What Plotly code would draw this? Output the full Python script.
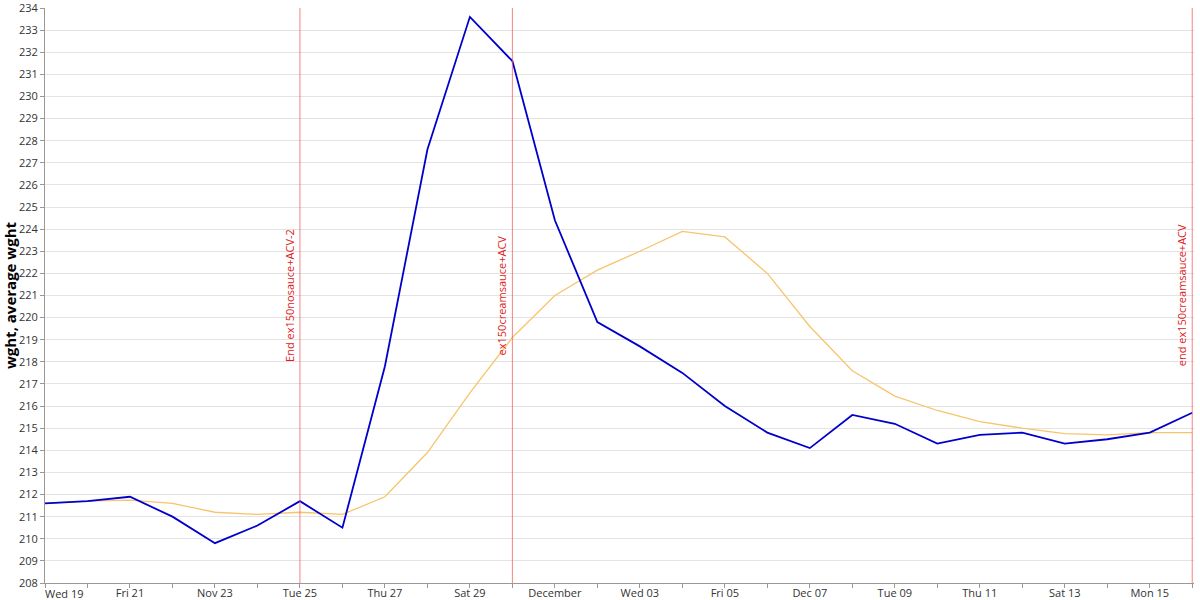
import pandas as pd
import plotly.graph_objects as go

# daily weights, 2025-11-19 .. 2025-12-16
days = pd.date_range("2025-11-19", "2025-12-16", freq="D")

wght = [211.6, 211.7, 211.9, 211.0, 209.8, 210.6, 211.7, 210.5,
        217.8, 227.6, 233.6, 231.6, 224.4, 219.8, 218.7, 217.5,
        216.0, 214.8, 214.1, 215.6, 215.2, 214.3, 214.7, 214.8,
        214.3, 214.5, 214.8, 215.7]

avg_wght = [211.6, 211.7, 211.75, 211.6, 211.2, 211.1, 211.2, 211.1,
            211.9, 213.9, 216.6, 219.1, 221.0, 222.15, 223.0, 223.9,
            223.65, 222.0, 219.6, 217.6, 216.45, 215.8, 215.3, 215.0,
            214.75, 214.7, 214.8, 214.8]

tick_dates = pd.date_range("2025-11-19", "2025-12-15", freq="2D")
tick_labels = ["Wed 19", "Fri 21", "Nov 23", "Tue 25", "Thu 27", "Sat 29",
               "December", "Wed 03", "Fri 05", "Dec 07", "Tue 09", "Thu 11",
               "Sat 13", "Mon 15"]

event_dates = ["2025-11-25", "2025-11-30", "2025-12-16"]
event_labels = ["End ex150nosauce+ACV-2", "ex150creamsauce+ACV",
                "end ex150creamsauce+ACV"]

# first label is drawn left-aligned at the plot edge (as an annotation)
shown_labels = [""] + tick_labels[1:]

fig = go.Figure()

fig.add_trace(go.Scatter(
    x=days, y=avg_wght, mode="lines", name="average wght",
    line=dict(color="#f7c46c", width=1.3)
))
fig.add_trace(go.Scatter(
    x=days, y=wght, mode="lines", name="wght",
    line=dict(color="#0000cc", width=1.8)
))

for d, txt in zip(event_dates, event_labels):
    fig.add_shape(type="line", x0=d, x1=d, y0=0, y1=1, xref="x", yref="paper",
                  line=dict(color="rgba(240,90,90,0.75)", width=1))
    fig.add_annotation(x=d, y=0.5, xref="x", yref="paper", text=txt,
                       textangle=-90, showarrow=False, xanchor="right",
                       yanchor="middle", xshift=-1,
                       font=dict(color="#e02020", size=11))

fig.add_annotation(x=tick_dates[0], y=0, xref="x", yref="paper",
                   text=tick_labels[0], showarrow=False,
                   xanchor="left", yanchor="top", yshift=-1, xshift=-2,
                   font=dict(size=11, color="#333"))

fig.update_layout(
    width=1200, height=600,
    margin=dict(l=45, r=6, t=8, b=17),
    plot_bgcolor="white", paper_bgcolor="white",
    showlegend=False,
    font=dict(family="Open Sans", size=11, color="#333"),
)

fig.update_xaxes(
    range=["2025-11-19", "2025-12-16 01:00"],
    automargin=False,
    tickvals=tick_dates, ticktext=shown_labels,
    showgrid=False, showline=True, linecolor="#999", linewidth=1,
    ticks="outside", ticklen=4, tickcolor="#999",
    ticklabelstandoff=-4,
    minor=dict(dtick=86400000, ticks="outside", ticklen=4, tickcolor="#999",
               showgrid=False),
    tickfont=dict(size=11, color="#333"),
)

fig.update_yaxes(
    range=[208, 234], dtick=1,
    tickvals=list(range(208, 235)),
    automargin=False, ticklabeloverflow="allow",
    showgrid=True, gridcolor="#e3e3e3", gridwidth=1,
    showline=True, linecolor="#999", linewidth=1,
    ticks="outside", ticklen=4, tickcolor="#999",
    zeroline=False,
    tickfont=dict(size=11, color="#333"),
    title=dict(text="<b>wght, average wght</b>", font=dict(size=15, color="#000"),
               standoff=0),
)

# page body has a default 8px margin, drop it so the figure fills the window
fig.write_html("out.html", config={"displayModeBar": False},
               post_script="document.body.style.margin='0';")
